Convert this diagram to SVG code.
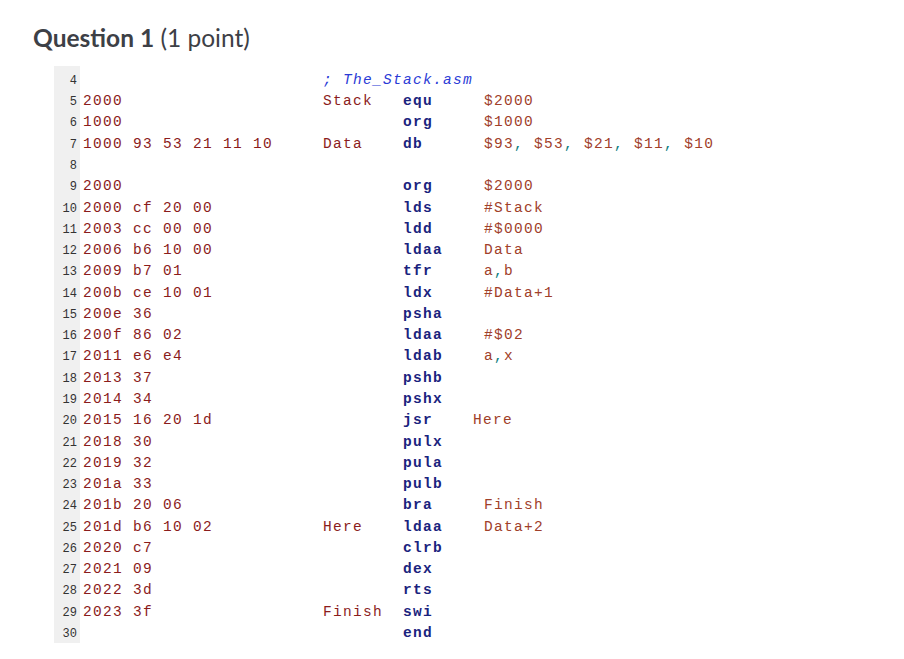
<svg xmlns="http://www.w3.org/2000/svg" width="904" height="659" viewBox="0 0 904 659">
<style>
.t{font-family:"Liberation Mono",monospace;font-size:14.5px;letter-spacing:1.3px}
.n{font-family:"Liberation Mono",monospace;font-size:12px;fill:#333;text-anchor:end}
.a{fill:#8b1c1c}
.l{fill:#8b1c1c}
.m{fill:#1a237e;font-weight:bold}
.o{fill:#a0402a}
.c{fill:#0f8080}
.cm{fill:#2a3bd6;font-style:italic}
</style>
<rect width="904" height="659" fill="#fff"/>
<text x="33" y="47" font-family="Lato,sans-serif" font-size="24.5" fill="#3d4046"><tspan font-weight="bold">Question 1</tspan> (1 point)</text>
<rect x="54" y="66" width="26" height="577" fill="#f0f0f0"/>
<g id="nums">
<text class="n" x="77" y="84">4</text>
<text class="n" x="77" y="105">5</text>
<text class="n" x="77" y="126">6</text>
<text class="n" x="77" y="148">7</text>
<text class="n" x="77" y="169">8</text>
<text class="n" x="77" y="190">9</text>
<text class="n" x="77" y="212">10</text>
<text class="n" x="77" y="233">11</text>
<text class="n" x="77" y="254">12</text>
<text class="n" x="77" y="275">13</text>
<text class="n" x="77" y="297">14</text>
<text class="n" x="77" y="318">15</text>
<text class="n" x="77" y="339">16</text>
<text class="n" x="77" y="360">17</text>
<text class="n" x="77" y="382">18</text>
<text class="n" x="77" y="403">19</text>
<text class="n" x="77" y="424">20</text>
<text class="n" x="77" y="446">21</text>
<text class="n" x="77" y="467">22</text>
<text class="n" x="77" y="488">23</text>
<text class="n" x="77" y="509">24</text>
<text class="n" x="77" y="531">25</text>
<text class="n" x="77" y="552">26</text>
<text class="n" x="77" y="573">27</text>
<text class="n" x="77" y="594">28</text>
<text class="n" x="77" y="616">29</text>
<text class="n" x="77" y="637">30</text>
</g>
<g id="addr" class="t a">
<text x="83" y="105">2000</text>
<text x="83" y="126">1000</text>
<text x="83" y="148">1000 93 53 21 11 10</text>
<text x="83" y="190">2000</text>
<text x="83" y="212">2000 cf 20 00</text>
<text x="83" y="233">2003 cc 00 00</text>
<text x="83" y="254">2006 b6 10 00</text>
<text x="83" y="275">2009 b7 01</text>
<text x="83" y="297">200b ce 10 01</text>
<text x="83" y="318">200e 36</text>
<text x="83" y="339">200f 86 02</text>
<text x="83" y="360">2011 e6 e4</text>
<text x="83" y="382">2013 37</text>
<text x="83" y="403">2014 34</text>
<text x="83" y="424">2015 16 20 1d</text>
<text x="83" y="446">2018 30</text>
<text x="83" y="467">2019 32</text>
<text x="83" y="488">201a 33</text>
<text x="83" y="509">201b 20 06</text>
<text x="83" y="531">201d b6 10 02</text>
<text x="83" y="552">2020 c7</text>
<text x="83" y="573">2021 09</text>
<text x="83" y="594">2022 3d</text>
<text x="83" y="616">2023 3f</text>
</g>
<g id="labels" class="t l">
<text class="t cm" x="323" y="84">; The_Stack.asm</text>
<text x="323" y="105">Stack</text>
<text x="323" y="148">Data</text>
<text x="323" y="531">Here</text>
<text x="323" y="616">Finish</text>
</g>
<g id="mnem" class="t m">
<text x="403" y="105">equ</text>
<text x="403" y="126">org</text>
<text x="403" y="148">db</text>
<text x="403" y="190">org</text>
<text x="403" y="212">lds</text>
<text x="403" y="233">ldd</text>
<text x="403" y="254">ldaa</text>
<text x="403" y="275">tfr</text>
<text x="403" y="297">ldx</text>
<text x="403" y="318">psha</text>
<text x="403" y="339">ldaa</text>
<text x="403" y="360">ldab</text>
<text x="403" y="382">pshb</text>
<text x="403" y="403">pshx</text>
<text x="403" y="424">jsr</text>
<text x="403" y="446">pulx</text>
<text x="403" y="467">pula</text>
<text x="403" y="488">pulb</text>
<text x="403" y="509">bra</text>
<text x="403" y="531">ldaa</text>
<text x="403" y="552">clrb</text>
<text x="403" y="573">dex</text>
<text x="403" y="594">rts</text>
<text x="403" y="616">swi</text>
<text x="403" y="637">end</text>
</g>
<g id="ops" class="t o">
<text x="484" y="105">$2000</text>
<text x="484" y="126">$1000</text>
<text x="484" y="148">$93<tspan class="c">,</tspan> $53<tspan class="c">,</tspan> $21<tspan class="c">,</tspan> $11<tspan class="c">,</tspan> $10</text>
<text x="484" y="190">$2000</text>
<text x="484" y="212">#Stack</text>
<text x="484" y="233">#$0000</text>
<text x="484" y="254">Data</text>
<text x="484" y="275">a<tspan class="c">,</tspan>b</text>
<text x="484" y="297">#Data+1</text>
<text x="484" y="339">#$02</text>
<text x="484" y="360">a<tspan class="c">,</tspan>x</text>
<text x="473" y="424">Here</text>
<text x="484" y="509">Finish</text>
<text x="484" y="531">Data+2</text>
</g>
</svg>
